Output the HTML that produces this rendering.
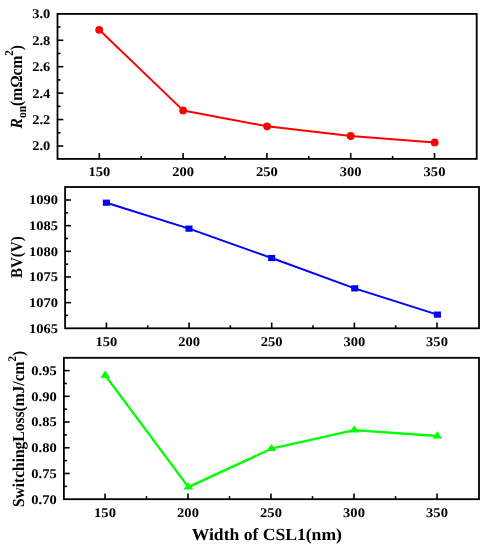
<!DOCTYPE html>
<html><head><meta charset="utf-8"><title>CSL1 width</title>
<style>
html,body{margin:0;padding:0;background:#fff;}
svg{display:block;text-rendering:geometricPrecision;}
.t{font-family:"Liberation Serif", "Times New Roman", serif;font-weight:bold;font-size:13.2px;fill:#000;}
.a{font-family:"Liberation Serif", "Times New Roman", serif;font-weight:bold;font-size:16px;fill:#000;}
</style></head>
<body>
<svg width="486" height="550" viewBox="0 0 486 550">
<rect width="486" height="550" fill="#fff"/>
<rect x="57.5" y="13.9" width="419.20" height="145.00" fill="none" stroke="#000" stroke-width="1.8" stroke-linejoin="miter"/>
<line x1="57.5" y1="146.00" x2="63.30" y2="146.00" stroke="#000" stroke-width="1.6"/>
<text transform="translate(50.30,150.40) scale(1.1,1)" class="t" text-anchor="end">2.0</text>
<line x1="57.5" y1="119.56" x2="63.30" y2="119.56" stroke="#000" stroke-width="1.6"/>
<text transform="translate(50.30,123.96) scale(1.1,1)" class="t" text-anchor="end">2.2</text>
<line x1="57.5" y1="93.12" x2="63.30" y2="93.12" stroke="#000" stroke-width="1.6"/>
<text transform="translate(50.30,97.52) scale(1.1,1)" class="t" text-anchor="end">2.4</text>
<line x1="57.5" y1="66.68" x2="63.30" y2="66.68" stroke="#000" stroke-width="1.6"/>
<text transform="translate(50.30,71.08) scale(1.1,1)" class="t" text-anchor="end">2.6</text>
<line x1="57.5" y1="40.24" x2="63.30" y2="40.24" stroke="#000" stroke-width="1.6"/>
<text transform="translate(50.30,44.64) scale(1.1,1)" class="t" text-anchor="end">2.8</text>
<text transform="translate(50.30,18.20) scale(1.1,1)" class="t" text-anchor="end">3.0</text>
<line x1="57.5" y1="132.78" x2="60.50" y2="132.78" stroke="#000" stroke-width="1.6"/>
<line x1="57.5" y1="106.34" x2="60.50" y2="106.34" stroke="#000" stroke-width="1.6"/>
<line x1="57.5" y1="79.90" x2="60.50" y2="79.90" stroke="#000" stroke-width="1.6"/>
<line x1="57.5" y1="53.46" x2="60.50" y2="53.46" stroke="#000" stroke-width="1.6"/>
<line x1="57.5" y1="27.02" x2="60.50" y2="27.02" stroke="#000" stroke-width="1.6"/>
<line x1="99.30" y1="158.9" x2="99.30" y2="153.10" stroke="#000" stroke-width="1.6"/>
<text transform="translate(99.30,176.40) scale(1.1,1)" class="t" text-anchor="middle">150</text>
<line x1="183.10" y1="158.9" x2="183.10" y2="153.10" stroke="#000" stroke-width="1.6"/>
<text transform="translate(183.10,176.40) scale(1.1,1)" class="t" text-anchor="middle">200</text>
<line x1="266.90" y1="158.9" x2="266.90" y2="153.10" stroke="#000" stroke-width="1.6"/>
<text transform="translate(266.90,176.40) scale(1.1,1)" class="t" text-anchor="middle">250</text>
<line x1="350.70" y1="158.9" x2="350.70" y2="153.10" stroke="#000" stroke-width="1.6"/>
<text transform="translate(350.70,176.40) scale(1.1,1)" class="t" text-anchor="middle">300</text>
<line x1="434.50" y1="158.9" x2="434.50" y2="153.10" stroke="#000" stroke-width="1.6"/>
<text transform="translate(434.50,176.40) scale(1.1,1)" class="t" text-anchor="middle">350</text>
<line x1="141.20" y1="158.9" x2="141.20" y2="155.90" stroke="#000" stroke-width="1.6"/>
<line x1="225.00" y1="158.9" x2="225.00" y2="155.90" stroke="#000" stroke-width="1.6"/>
<line x1="308.80" y1="158.9" x2="308.80" y2="155.90" stroke="#000" stroke-width="1.6"/>
<line x1="392.60" y1="158.9" x2="392.60" y2="155.90" stroke="#000" stroke-width="1.6"/>
<rect x="65.1" y="187.0" width="413.90" height="141.30" fill="none" stroke="#000" stroke-width="1.8" stroke-linejoin="miter"/>
<text transform="translate(57.90,332.70) scale(1.1,1)" class="t" text-anchor="end">1065</text>
<line x1="65.1" y1="302.64" x2="70.90" y2="302.64" stroke="#000" stroke-width="1.6"/>
<text transform="translate(57.90,307.04) scale(1.1,1)" class="t" text-anchor="end">1070</text>
<line x1="65.1" y1="276.98" x2="70.90" y2="276.98" stroke="#000" stroke-width="1.6"/>
<text transform="translate(57.90,281.38) scale(1.1,1)" class="t" text-anchor="end">1075</text>
<line x1="65.1" y1="251.32" x2="70.90" y2="251.32" stroke="#000" stroke-width="1.6"/>
<text transform="translate(57.90,255.72) scale(1.1,1)" class="t" text-anchor="end">1080</text>
<line x1="65.1" y1="225.66" x2="70.90" y2="225.66" stroke="#000" stroke-width="1.6"/>
<text transform="translate(57.90,230.06) scale(1.1,1)" class="t" text-anchor="end">1085</text>
<line x1="65.1" y1="200.00" x2="70.90" y2="200.00" stroke="#000" stroke-width="1.6"/>
<text transform="translate(57.90,204.40) scale(1.1,1)" class="t" text-anchor="end">1090</text>
<line x1="65.1" y1="315.47" x2="68.10" y2="315.47" stroke="#000" stroke-width="1.6"/>
<line x1="65.1" y1="289.81" x2="68.10" y2="289.81" stroke="#000" stroke-width="1.6"/>
<line x1="65.1" y1="264.15" x2="68.10" y2="264.15" stroke="#000" stroke-width="1.6"/>
<line x1="65.1" y1="238.49" x2="68.10" y2="238.49" stroke="#000" stroke-width="1.6"/>
<line x1="65.1" y1="212.83" x2="68.10" y2="212.83" stroke="#000" stroke-width="1.6"/>
<line x1="106.40" y1="328.3" x2="106.40" y2="322.50" stroke="#000" stroke-width="1.6"/>
<text transform="translate(106.40,345.80) scale(1.1,1)" class="t" text-anchor="middle">150</text>
<line x1="189.05" y1="328.3" x2="189.05" y2="322.50" stroke="#000" stroke-width="1.6"/>
<text transform="translate(189.05,345.80) scale(1.1,1)" class="t" text-anchor="middle">200</text>
<line x1="271.70" y1="328.3" x2="271.70" y2="322.50" stroke="#000" stroke-width="1.6"/>
<text transform="translate(271.70,345.80) scale(1.1,1)" class="t" text-anchor="middle">250</text>
<line x1="354.35" y1="328.3" x2="354.35" y2="322.50" stroke="#000" stroke-width="1.6"/>
<text transform="translate(354.35,345.80) scale(1.1,1)" class="t" text-anchor="middle">300</text>
<line x1="437.00" y1="328.3" x2="437.00" y2="322.50" stroke="#000" stroke-width="1.6"/>
<text transform="translate(437.00,345.80) scale(1.1,1)" class="t" text-anchor="middle">350</text>
<line x1="147.73" y1="328.3" x2="147.73" y2="325.30" stroke="#000" stroke-width="1.6"/>
<line x1="230.38" y1="328.3" x2="230.38" y2="325.30" stroke="#000" stroke-width="1.6"/>
<line x1="313.02" y1="328.3" x2="313.02" y2="325.30" stroke="#000" stroke-width="1.6"/>
<line x1="395.68" y1="328.3" x2="395.68" y2="325.30" stroke="#000" stroke-width="1.6"/>
<rect x="63.9" y="357.8" width="415.10" height="141.40" fill="none" stroke="#000" stroke-width="1.8" stroke-linejoin="miter"/>
<text transform="translate(56.70,503.60) scale(1.1,1)" class="t" text-anchor="end">0.70</text>
<line x1="63.9" y1="473.48" x2="69.70" y2="473.48" stroke="#000" stroke-width="1.6"/>
<text transform="translate(56.70,477.88) scale(1.1,1)" class="t" text-anchor="end">0.75</text>
<line x1="63.9" y1="447.76" x2="69.70" y2="447.76" stroke="#000" stroke-width="1.6"/>
<text transform="translate(56.70,452.16) scale(1.1,1)" class="t" text-anchor="end">0.80</text>
<line x1="63.9" y1="422.04" x2="69.70" y2="422.04" stroke="#000" stroke-width="1.6"/>
<text transform="translate(56.70,426.44) scale(1.1,1)" class="t" text-anchor="end">0.85</text>
<line x1="63.9" y1="396.32" x2="69.70" y2="396.32" stroke="#000" stroke-width="1.6"/>
<text transform="translate(56.70,400.72) scale(1.1,1)" class="t" text-anchor="end">0.90</text>
<line x1="63.9" y1="370.60" x2="69.70" y2="370.60" stroke="#000" stroke-width="1.6"/>
<text transform="translate(56.70,375.00) scale(1.1,1)" class="t" text-anchor="end">0.95</text>
<line x1="63.9" y1="486.34" x2="66.90" y2="486.34" stroke="#000" stroke-width="1.6"/>
<line x1="63.9" y1="460.62" x2="66.90" y2="460.62" stroke="#000" stroke-width="1.6"/>
<line x1="63.9" y1="434.90" x2="66.90" y2="434.90" stroke="#000" stroke-width="1.6"/>
<line x1="63.9" y1="409.18" x2="66.90" y2="409.18" stroke="#000" stroke-width="1.6"/>
<line x1="63.9" y1="383.46" x2="66.90" y2="383.46" stroke="#000" stroke-width="1.6"/>
<line x1="105.00" y1="499.2" x2="105.00" y2="493.40" stroke="#000" stroke-width="1.6"/>
<text transform="translate(105.00,516.70) scale(1.1,1)" class="t" text-anchor="middle">150</text>
<line x1="188.00" y1="499.2" x2="188.00" y2="493.40" stroke="#000" stroke-width="1.6"/>
<text transform="translate(188.00,516.70) scale(1.1,1)" class="t" text-anchor="middle">200</text>
<line x1="271.00" y1="499.2" x2="271.00" y2="493.40" stroke="#000" stroke-width="1.6"/>
<text transform="translate(271.00,516.70) scale(1.1,1)" class="t" text-anchor="middle">250</text>
<line x1="354.00" y1="499.2" x2="354.00" y2="493.40" stroke="#000" stroke-width="1.6"/>
<text transform="translate(354.00,516.70) scale(1.1,1)" class="t" text-anchor="middle">300</text>
<line x1="437.00" y1="499.2" x2="437.00" y2="493.40" stroke="#000" stroke-width="1.6"/>
<text transform="translate(437.00,516.70) scale(1.1,1)" class="t" text-anchor="middle">350</text>
<line x1="146.50" y1="499.2" x2="146.50" y2="496.20" stroke="#000" stroke-width="1.6"/>
<line x1="229.50" y1="499.2" x2="229.50" y2="496.20" stroke="#000" stroke-width="1.6"/>
<line x1="312.50" y1="499.2" x2="312.50" y2="496.20" stroke="#000" stroke-width="1.6"/>
<line x1="395.50" y1="499.2" x2="395.50" y2="496.20" stroke="#000" stroke-width="1.6"/>
<polyline points="99.2,29.8 183.1,110.4 267.1,126.3 350.7,136.0 434.7,142.4" fill="none" stroke="#ff0000" stroke-width="2.0" stroke-linejoin="round"/>
<circle cx="99.2" cy="29.8" r="3.9" fill="#ff0000"/>
<circle cx="183.1" cy="110.4" r="3.9" fill="#ff0000"/>
<circle cx="267.1" cy="126.3" r="3.9" fill="#ff0000"/>
<circle cx="350.7" cy="136.0" r="3.9" fill="#ff0000"/>
<circle cx="434.7" cy="142.4" r="3.9" fill="#ff0000"/>
<polyline points="106.4,202.7 189.0,228.65 271.7,258.05 354.7,288.35 437.4,314.6" fill="none" stroke="#0000ff" stroke-width="2.0" stroke-linejoin="round"/>
<rect x="102.85" y="199.60" width="7.1" height="6.2" fill="#0000ff"/>
<rect x="185.45" y="225.55" width="7.1" height="6.2" fill="#0000ff"/>
<rect x="268.15" y="254.95" width="7.1" height="6.2" fill="#0000ff"/>
<rect x="351.15" y="285.25" width="7.1" height="6.2" fill="#0000ff"/>
<rect x="433.85" y="311.50" width="7.1" height="6.2" fill="#0000ff"/>
<polyline points="105.2,375.3 188.4,487.1 271.5,448.7 354.3,430.1 437.3,436.0" fill="none" stroke="#00ff00" stroke-width="2.3" stroke-linejoin="round"/>
<polygon points="105.20,370.50 110.10,377.70 100.30,377.70" fill="#00ff00"/>
<polygon points="188.40,482.30 193.30,489.50 183.50,489.50" fill="#00ff00"/>
<polygon points="271.50,443.90 276.40,451.10 266.60,451.10" fill="#00ff00"/>
<polygon points="354.30,425.30 359.20,432.50 349.40,432.50" fill="#00ff00"/>
<polygon points="437.30,431.20 442.20,438.40 432.40,438.40" fill="#00ff00"/>
<text transform="translate(266.8,540.2) scale(1.035,1)" class="a" style="font-size:17px" text-anchor="middle">Width of CSL1(nm)</text>
<text transform="translate(21.7,86.7) scale(1.1,1) rotate(-90)" class="a" style="font-size:15.5px" text-anchor="middle"><tspan font-style="italic">R</tspan><tspan font-size="11.5" dy="4.3">on</tspan><tspan dy="-4.3">(mΩcm</tspan><tspan font-size="11" dy="-7.5">2</tspan><tspan dy="7.5">)</tspan></text>
<text transform="translate(22.0,257.2) scale(1.1,1) rotate(-90)" class="a" style="font-size:15px" text-anchor="middle">BV(V)</text>
<text transform="translate(24.0,429.0) scale(1.08,1) rotate(-90)" class="a" style="font-size:15.5px" text-anchor="middle">SwitchingLoss(mJ/cm<tspan font-size="11" dy="-7.5">2</tspan><tspan dy="7.5">)</tspan></text>
</svg>
</body></html>
